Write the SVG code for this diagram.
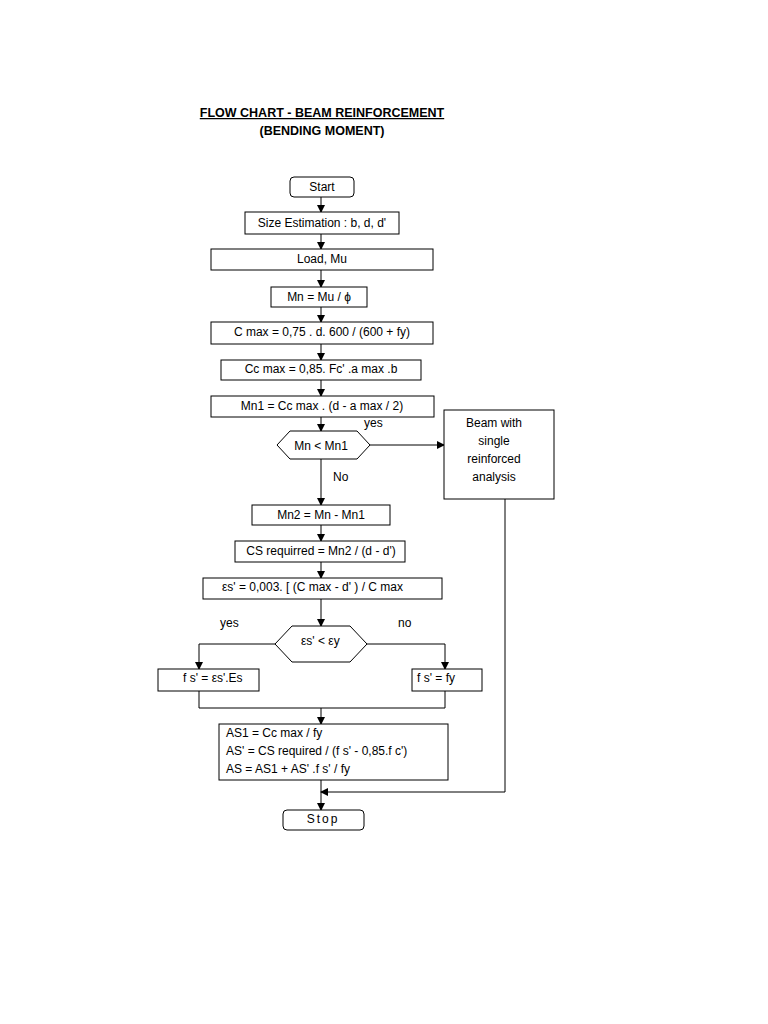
<svg xmlns="http://www.w3.org/2000/svg" width="768" height="1024" viewBox="0 0 768 1024">
<style>
text{font-family:"Liberation Sans",Arial,sans-serif;font-size:12px;fill:#000}
.t{font-weight:bold;font-size:12.5px}
.c{text-anchor:middle}
rect,polygon{fill:#fff;stroke:#000;stroke-width:1}
.ln{fill:none;stroke:#000;stroke-width:1}
</style>
<defs><marker id="a" markerWidth="8" markerHeight="8" refX="7" refY="4" orient="auto" markerUnits="userSpaceOnUse"><path d="M0,0 L8,4 L0,8 z" fill="#000"/></marker></defs>
<rect width="768" height="1024" style="stroke:none"/>
<text class="t c" x="322" y="117" text-decoration="underline">FLOW CHART - BEAM REINFORCEMENT</text>
<text class="t c" x="322" y="135">(BENDING MOMENT)</text>
<g id="connectors">
<path class="ln" marker-end="url(#a)" d="M321,197V212"/>
<path class="ln" marker-end="url(#a)" d="M321,234V249"/>
<path class="ln" marker-end="url(#a)" d="M321,270V287"/>
<path class="ln" marker-end="url(#a)" d="M321,307V322"/>
<path class="ln" marker-end="url(#a)" d="M321,344V360"/>
<path class="ln" marker-end="url(#a)" d="M321,380V396"/>
<path class="ln" marker-end="url(#a)" d="M321,417V431"/>
<path class="ln" marker-end="url(#a)" d="M370,445H444"/>
<path class="ln" marker-end="url(#a)" d="M321,459V505"/>
<path class="ln" marker-end="url(#a)" d="M321,525V541"/>
<path class="ln" marker-end="url(#a)" d="M321,562V578"/>
<path class="ln" marker-end="url(#a)" d="M321,599V626"/>
<path class="ln" marker-end="url(#a)" d="M275,644H199V669"/>
<path class="ln" marker-end="url(#a)" d="M367,644H445V669"/>
<path class="ln" d="M199,691V708H445V691"/>
<path class="ln" marker-end="url(#a)" d="M321,708V724"/>
<path class="ln" marker-end="url(#a)" d="M505,499V792H321"/>
<path class="ln" marker-end="url(#a)" d="M321,780V810"/>
<text x="364" y="427">yes</text>
<text x="333" y="481">No</text>
<text x="220" y="627">yes</text>
<text x="398" y="627">no</text>
</g>
<g id="start"><rect x="290" y="177" width="64" height="20" rx="4"/><text class="c" x="322" y="191">Start</text></g>
<g id="size"><rect x="245" y="212" width="154" height="22"/><text class="c" x="322" y="227">Size Estimation : b, d, d'</text></g>
<g id="load"><rect x="211" y="249" width="222" height="21"/><text class="c" x="322" y="263">Load, Mu</text></g>
<g id="mn"><rect x="271" y="287" width="96" height="20"/><text class="c" x="319" y="301">Mn = Mu / ϕ</text></g>
<g id="cmax"><rect x="211" y="322" width="222" height="22"/><text class="c" x="322" y="336">C max = 0,75 . d. 600 / (600 + fy)</text></g>
<g id="ccmax"><rect x="221" y="360" width="200" height="20"/><text class="c" x="321" y="373">Cc max = 0,85. Fc' .a max .b</text></g>
<g id="mn1"><rect x="211" y="396" width="223" height="21"/><text class="c" x="322" y="410">Mn1 = Cc max . (d - a max / 2)</text></g>
<g id="dec1"><polygon points="277,445 290,431 357,431 370,445 357,459 290,459"/><text class="c" x="321" y="450">Mn &lt; Mn1</text></g>
<g id="beam"><rect x="444" y="410" width="110" height="89"/>
<text class="c" x="494" y="427">Beam with</text><text class="c" x="494" y="445">single</text><text class="c" x="494" y="463">reinforced</text><text class="c" x="494" y="481">analysis</text></g>
<g id="mn2"><rect x="252" y="505" width="138" height="20"/><text class="c" x="321" y="519">Mn2 = Mn - Mn1</text></g>
<g id="cs"><rect x="235" y="541" width="170" height="21"/><text class="c" x="321" y="555">CS requirred = Mn2 / (d - d')</text></g>
<g id="es"><rect x="203" y="578" width="239" height="21"/><text x="222" y="591">εs' = 0,003. [  (C max - d' ) / C max</text></g>
<g id="dec2"><polygon points="275,644 292,626 350,626 367,644 350,662 292,662"/><text x="301" y="645">εs'  &lt;  εy</text></g>
<g id="fsl"><rect x="158" y="669" width="101" height="22"/><text x="183" y="682">f s' = εs'.Es</text></g>
<g id="fsr"><rect x="412" y="669" width="70" height="22"/><text x="417" y="682">f s' = fy</text></g>
<g id="as"><rect x="219" y="724" width="229" height="56"/>
<text x="226" y="737">AS1 = Cc max / fy</text><text x="226" y="755">AS'  = CS required / (f s' - 0,85.f c')</text><text x="226" y="773">AS  = AS1 + AS' .f s' / fy</text></g>
<g id="stop"><rect x="283" y="810" width="81" height="20" rx="4"/><text class="c" x="323" y="823" letter-spacing="2">Stop</text></g>
</svg>
